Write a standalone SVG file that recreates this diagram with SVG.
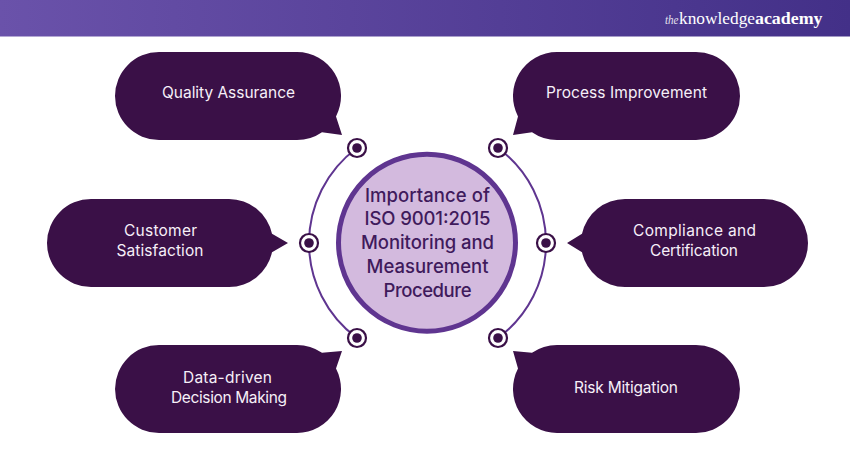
<svg xmlns="http://www.w3.org/2000/svg" width="850" height="450" viewBox="0 0 850 450">
<style>
.b{fill:#3a1047}
.t{font-family:Inter,"Open Sans","Liberation Sans",sans-serif;font-size:15.500px;fill:#f6eff8;text-anchor:middle}
.c{font-family:Inter,"Open Sans","Liberation Sans",sans-serif;font-size:18.500px;font-weight:500;fill:#3f1a5c;text-anchor:middle}
.ro{fill:#fff;stroke:#3a1047;stroke-width:2.200}
.rd{fill:#3a1047}
.l{font-family:"Liberation Serif",serif;fill:#fff}
</style>
<defs>
<linearGradient id="h" x1="0" x2="1" y1="0" y2="0"><stop offset="0" stop-color="#6a52aa"/><stop offset="1" stop-color="#433088"/></linearGradient>
</defs>
<g id="header">
<rect width="850" height="36.500" fill="url(#h)"/>
<text x="665" y="24" class="l" font-size="12.500" font-style="italic" opacity=".85" textLength="13.500" lengthAdjust="spacingAndGlyphs">the</text>
<text x="679" y="24" class="l" font-size="17.500" textLength="76" lengthAdjust="spacingAndGlyphs">knowledge</text>
<text x="755" y="24" class="l" font-size="17.500" font-weight="bold" textLength="67.500" lengthAdjust="spacingAndGlyphs">academy</text>
</g>
<g id="connectors" fill="none" stroke="#5f3590" stroke-width="2">
<path d="M357 148A118 118 0 0 0 309 243A118 118 0 0 0 357 338"/>
<path d="M498 148A118 118 0 0 1 546 243A118 118 0 0 1 498 338"/>
</g>
<g id="center">
<circle cx="427" cy="242.700" r="88.500" fill="#d3bade" stroke="#5f3590" stroke-width="5"/>
<text class="c" x="427.500" y="201.500" textLength="125">Importance of</text>
<text class="c" x="427.500" y="225.300" textLength="126">ISO 9001:2015</text>
<text class="c" x="427.500" y="249.200" textLength="133">Monitoring and</text>
<text class="c" x="427.500" y="273" textLength="122">Measurement</text>
<text class="c" x="427.500" y="296.800" textLength="88">Procedure</text>
</g>
<g id="n1"><path class="b" d="M159 52H297A44 44 0 0 1 336 116.400L342 135L322 132.200A44 44 0 0 1 297 140H159A44 44 0 0 1 159 52Z"/><text class="t" x="228.500" y="98" textLength="133">Quality Assurance</text></g>
<g id="n2"><path class="b" d="M696 52H557A44 44 0 0 0 518 116.400L513 135L532 132.200A44 44 0 0 0 557 140H696A44 44 0 0 0 696 52Z"/><text class="t" x="626.500" y="98" textLength="161">Process Improvement</text></g>
<g id="n3"><path class="b" d="M91 199H229A44 44 0 0 1 272 233.700L288 243L272 252.300A44 44 0 0 1 229 287H91A44 44 0 0 1 91 199Z"/><text class="t" x="160.500" y="236" textLength="73">Customer</text><text class="t" x="160" y="256" textLength="87">Satisfaction</text></g>
<g id="n4"><path class="b" d="M764 199H625A44 44 0 0 0 582 233.700L567 243L582 252.300A44 44 0 0 0 625 287H764A44 44 0 0 0 764 199Z"/><text class="t" x="694.500" y="236" textLength="123">Compliance and</text><text class="t" x="694" y="256" textLength="88">Certification</text></g>
<g id="n5"><path class="b" d="M159 345H297A44 44 0 0 1 322 352.800L342 351L336 368.600A44 44 0 0 1 297 433H159A44 44 0 0 1 159 345Z"/><text class="t" x="227.500" y="383" textLength="89">Data-driven</text><text class="t" x="229" y="403" textLength="116">Decision Making</text></g>
<g id="n6"><path class="b" d="M696 345H557A44 44 0 0 0 532 352.800L513 351L518 368.600A44 44 0 0 0 557 433H696A44 44 0 0 0 696 345Z"/><text class="t" x="626" y="393" textLength="104">Risk Mitigation</text></g>
<g id="d1"><circle class="ro" cx="357" cy="148" r="9"/><circle class="rd" cx="357" cy="148" r="4.800"/></g>
<g id="d2"><circle class="ro" cx="309" cy="243" r="9"/><circle class="rd" cx="309" cy="243" r="4.800"/></g>
<g id="d3"><circle class="ro" cx="357" cy="338" r="9"/><circle class="rd" cx="357" cy="338" r="4.800"/></g>
<g id="d4"><circle class="ro" cx="498" cy="148" r="9"/><circle class="rd" cx="498" cy="148" r="4.800"/></g>
<g id="d5"><circle class="ro" cx="546" cy="243" r="9"/><circle class="rd" cx="546" cy="243" r="4.800"/></g>
<g id="d6"><circle class="ro" cx="498" cy="338" r="9"/><circle class="rd" cx="498" cy="338" r="4.800"/></g>
</svg>
